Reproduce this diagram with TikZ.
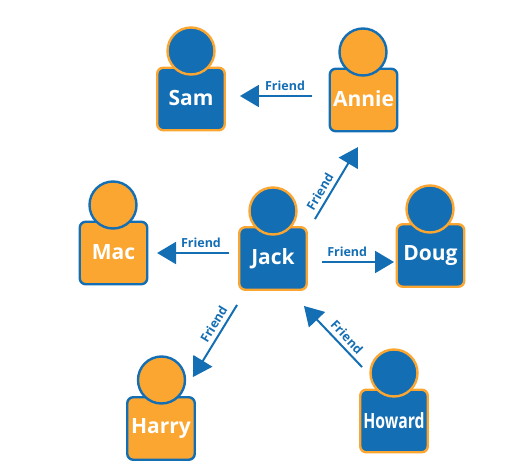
\documentclass[tikz,border=0pt]{standalone}
\usepackage{fontspec}
\setmainfont{Open Sans}
\usetikzlibrary{arrows.meta}
\definecolor{friendblue}{HTML}{146EB4}
\definecolor{friendorange}{HTML}{FBA631}
\tikzset{
	body/.style={draw, line width=2.4pt, rounded corners=6pt, minimum width=67.5pt, minimum height=62.5pt, inner sep=0pt, text=white, font=\bfseries\fontsize{21}{24}\selectfont},
	head/.style={draw, circle, line width=2.4pt, minimum size=47pt, inner sep=0pt},
	blueperson/.style={fill=friendblue, draw=friendorange},
	orangeperson/.style={fill=friendorange, draw=friendblue},
	friend/.style={->, line width=2pt, friendblue},
	friendlabel/.style={sloped, above, inner sep=4pt, text=friendblue, font=\bfseries\fontsize{12.5}{15}\selectfont}
}
\begin{document}
\begin{tikzpicture}[x=1pt, y=-1pt, >={Triangle[length=19pt, width=22pt]}]
	\useasboundingbox (0,0) rectangle (517,471);
	\node[body, blueperson] (sam) at (191,99) {\raisebox{3pt}{Sam}};
	\node[head, blueperson] (samhead) at (191,51) {};
	\node[body, orangeperson] (annie) at (363.5,100) {\raisebox{3pt}{Annie}};
	\node[head, orangeperson] (anniehead) at (363,52) {};
	\node[body, orangeperson] (mac) at (113.5,253) {\raisebox{2pt}{Mac}};
	\node[head, orangeperson] (machead) at (113,205) {};
	\node[body, blueperson] (jack) at (273,258.5) {\raisebox{1pt}{Jack}};
	\node[head, blueperson] (jackhead) at (273,211) {};
	\node[body, blueperson] (doug) at (430.5,255.5) {\raisebox{2pt}{Doug}};
	\node[head, blueperson] (doughead) at (430,209) {};
	\node[body, orangeperson] (harry) at (161,428.5) {Harry};
	\node[head, orangeperson] (harryhead) at (161.5,380) {};
	\node[body, blueperson] (howard) at (394,421) {\scalebox{.75}[1]{Howard}};
	\node[head, blueperson] (howardhead) at (394,373) {};
	\draw[friend] ([shift={(-16.5,-4)}]annie.west) -- node[friendlabel, pos=.375] {Friend} ([shift={(14,-3)}]sam.east);
	\draw[friend] ([shift={(7,-7)}]jack.north east) -- node[friendlabel, pos=.31] {Friend} ([shift={(-5.5,14.6)}]annie.south);
	\draw[friend] ([shift={(-9,-5.5)}]jack.west) -- node[friendlabel, pos=.39] {Friend} ([shift={(8.6,0)}]mac.east);
	\draw[friend] ([shift={(14,3.5)}]jack.east) -- node[friendlabel, pos=.35] {Friend} ([shift={(-1.5,6.5)}]doug.west);
	\draw[friend] ([shift={(-1,14)}]jack.south west) -- node[friendlabel, pos=.34] {Friend} ([shift={(-3,-19)}]harry.north east);
	\draw[friend] ([shift={(3,-21.5)}]howard.north west) -- node[friendlabel, pos=.38] {Friend} ([shift={(-4,15)}]jack.south east);
\end{tikzpicture}
\end{document}
